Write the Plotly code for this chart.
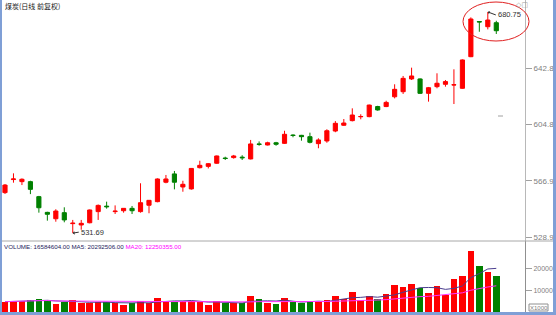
import plotly.graph_objects as go
import pandas as pd

# ---------------- data ----------------
idx = list(range(59))
opens = [559.0, 567.8, 566.4, 566.4, 556.3, 545.7, 541.4, 545.5, 538.1, 537.2,
         538.7, 546.2, 549.9, 546.2, 546.8, 548.4, 546.2, 550.5, 552.9, 566.0,
         571.6, 562.8, 561.5, 575.8, 576.7, 578.8, 582.3, 582.6, 582.9, 581.7,
         591.8, 591.1, 592.6, 592.2, 597.8, 597.6, 596.7, 592.0, 593.8, 600.5,
         604.4, 607.5, 610.1, 610.2, 617.0, 617.0, 623.6, 627.0, 635.6, 635.6,
         625.9, 630.4, 632.0, 631.5, 629.3, 650.6, 674.3, 670.8, 673.5]
highs = [564.8, 572.0, 568.6, 567.0, 556.8, 546.1, 547.8, 549.1, 540.6, 540.6,
         547.6, 551.0, 552.9, 550.4, 548.6, 550.0, 565.3, 554.0, 568.6, 570.9,
         573.6, 567.0, 575.6, 580.5, 578.9, 584.0, 583.2, 584.4, 584.2, 594.5,
         593.5, 593.3, 593.2, 600.7, 598.3, 597.9, 599.4, 595.6, 601.7, 607.2,
         608.6, 615.8, 611.8, 618.3, 617.5, 620.9, 632.0, 637.6, 643.2, 636.0,
         630.2, 639.4, 634.9, 642.1, 648.8, 677.1, 674.5, 680.75, 674.8]
lows = [558.1, 565.7, 564.1, 558.0, 545.5, 540.1, 539.4, 539.0, 531.69, 534.0,
        538.3, 540.6, 548.2, 544.6, 545.5, 544.6, 545.5, 545.1, 552.5, 565.3,
        561.2, 559.6, 561.0, 575.3, 575.3, 578.4, 581.0, 581.9, 581.0, 581.4,
        590.6, 590.8, 590.6, 591.8, 596.3, 594.0, 592.2, 588.9, 592.6, 599.7,
        604.0, 607.0, 608.4, 609.8, 614.2, 616.6, 622.5, 625.5, 634.9, 625.5,
        620.3, 629.3, 630.4, 618.7, 629.0, 650.3, 667.4, 669.0, 665.9]
closes = [564.1, 568.2, 568.0, 561.2, 548.8, 544.4, 546.6, 540.6, 538.4, 538.3,
          547.3, 550.4, 549.5, 546.5, 548.4, 546.8, 552.2, 553.8, 568.2, 568.2,
          566.0, 564.6, 575.3, 577.4, 578.5, 583.7, 582.0, 583.7, 582.5, 591.8,
          591.5, 592.6, 591.6, 598.3, 597.5, 596.7, 592.9, 594.5, 600.7, 605.7,
          605.9, 611.3, 610.3, 618.0, 614.7, 619.8, 628.6, 636.0, 637.6, 625.9,
          629.7, 632.7, 633.8, 631.7, 648.4, 676.0, 674.0, 675.3, 668.1]
volumes = [4800000, 5300000, 5000000, 5600000, 6000000, 5300000, 3900000, 4800000, 5600000, 4200000,
           4000000, 4500000, 4700000, 4300000, 3400000, 4200000, 5100000, 4200000, 6400000, 5300000,
           4800000, 5100000, 5100000, 4700000, 3300000, 5000000, 4200000, 4200000, 4200000, 7400000,
           6000000, 4200000, 3700000, 6400000, 4800000, 4000000, 5100000, 4800000, 5600000, 7400000,
           6000000, 9400000, 5600000, 7400000, 6000000, 8200000, 12600000, 11800000, 12900000, 11000000,
           8700000, 12100000, 7900000, 15200000, 16600000, 28200000, 21500000, 18500000, 16584604]
price_ticks = [528.9, 566.9, 604.8, 642.8]
vol_ticks = [10000, 20000]
title_text = "煤炭(日线 前复权)"
vol_title = "VOLUME: 16584604.00 MA5: 20292506.00 "
ma20_title = "MA20: 12250355.00"
low_label = "531.69"
high_label = "680.75"

RED = "#FF0000"
GREEN = "#008000"

vol_k = [v / 1000 for v in volumes]
s = pd.Series(vol_k)
ma5 = s.rolling(5, min_periods=1).mean().tolist()
ma20 = s.rolling(20, min_periods=1).mean().tolist()
vcolors = [RED if c >= o else GREEN for o, c in zip(opens, closes)]

W, H = 556, 315
def px(x):
    return x / W
def py(y):
    return 1 - y / H

fig = go.Figure()
fig.add_trace(go.Candlestick(
    x=idx, open=opens, high=highs, low=lows, close=closes,
    increasing=dict(line=dict(color=RED, width=1), fillcolor=RED),
    decreasing=dict(line=dict(color=GREEN, width=1), fillcolor=GREEN),
    whiskerwidth=0, xaxis="x", yaxis="y", showlegend=False, hoverinfo="skip"))
fig.add_trace(go.Bar(x=idx, y=vol_k, marker=dict(color=vcolors, line=dict(width=0)),
                     width=0.78, xaxis="x2", yaxis="y2", showlegend=False))
fig.add_trace(go.Scatter(x=idx, y=ma5, mode="lines", line=dict(color="#4a3d8f", width=1),
                         xaxis="x2", yaxis="y2", showlegend=False))
fig.add_trace(go.Scatter(x=idx, y=ma20, mode="lines", line=dict(color="#FF33FF", width=1),
                         xaxis="x2", yaxis="y2", showlegend=False))

xr = [-0.59, 61.39]
xdom = [0, 525 / W]
axis_font = dict(family="Liberation Sans, Arial", size=8, color="#808080")
fig.update_layout(
    width=W, height=H, margin=dict(l=0, r=0, t=0, b=0),
    paper_bgcolor="white", plot_bgcolor="white",
    bargap=0,
    xaxis=dict(domain=xdom, range=xr, visible=False, rangeslider=dict(visible=False), anchor="y"),
    xaxis2=dict(domain=xdom, range=xr, visible=False, anchor="y2"),
    yaxis=dict(domain=[py(241), 1], range=[526.4, 688.8], side="right", anchor="x",
               tickvals=price_ticks, ticktext=[f"{t:.1f}" for t in price_ticks],
               showgrid=False, zeroline=False, showline=True, linecolor="#b8b8b8", linewidth=1,
               ticks="outside", ticklen=6, tickcolor="#a0a0a0", tickfont=axis_font),
    yaxis2=dict(domain=[py(312), py(241)], range=[0, 33000], side="right", anchor="x2",
                tickvals=vol_ticks, ticktext=[str(t) for t in vol_ticks],
                showgrid=False, zeroline=False, showline=True, linecolor="#909090", linewidth=1,
                ticks="outside", ticklen=6, tickcolor="#a0a0a0",
                tickfont=dict(family="Liberation Sans, Arial", size=7, color="#808080")),
)

shapes = [
    dict(type="line", xref="paper", yref="paper", x0=0, x1=1, y0=py(241), y1=py(241),
         line=dict(color="#a8a8a8", width=1)),
    dict(type="circle", xref="paper", yref="paper", x0=px(463), x1=px(529), y0=py(41), y1=py(2),
         line=dict(color="#E02020", width=1)),
    dict(type="line", xref="paper", yref="paper", x0=px(498), x1=px(503), y0=py(116), y1=py(116),
         line=dict(color="#a0a0a0", width=1)),
    dict(type="rect", xref="paper", yref="paper", x0=0, x1=px(2), y0=0, y1=1,
         line=dict(width=0), fillcolor="#7f9fd6"),
    dict(type="rect", xref="paper", yref="paper", x0=px(553), x1=1, y0=0, y1=1,
         line=dict(width=0), fillcolor="#7f9fd6"),
    dict(type="rect", xref="paper", yref="paper", x0=0, x1=1, y0=0, y1=py(312),
         line=dict(width=0), fillcolor="#7f9fd6"),
    dict(type="rect", xref="paper", yref="paper", x0=px(529), x1=px(548), y0=py(311), y1=py(304),
         line=dict(color="#909090", width=1)),
]
fig.update_layout(shapes=shapes)

annotations = [
    dict(text=title_text, xref="paper", yref="paper", x=px(3), y=py(6), xanchor="left", yanchor="middle",
         showarrow=False, font=dict(family="Noto Sans CJK SC", size=7, color="#202020")),
    dict(text=vol_title + f"<span style='color:#FF00FF'>{ma20_title}</span>", xref="paper", yref="paper",
         x=px(2), y=py(246), xanchor="left", yanchor="middle", showarrow=False,
         font=dict(family="Liberation Sans, Arial", size=6.2, color="#1c1c5c")),
    dict(text=low_label, x=8, y=lows[8], xref="x", yref="y", xanchor="left", yanchor="middle",
         ax=6, ay=-1, showarrow=True, arrowhead=1, arrowsize=0.6, arrowwidth=1, arrowcolor="#303030",
         standoff=0, font=dict(family="Liberation Sans, Arial", size=7.5, color="#303030")),
    dict(text=high_label, x=57, y=highs[57], xref="x", yref="y", xanchor="left", yanchor="middle",
         ax=8, ay=3, showarrow=True, arrowhead=1, arrowsize=0.6, arrowwidth=1, arrowcolor="#303030",
         standoff=0, font=dict(family="Liberation Sans, Arial", size=7.5, color="#303030")),
    dict(text="X1000", xref="paper", yref="paper", x=px(538.5), y=py(307.5), xanchor="center", yanchor="middle",
         showarrow=False, font=dict(family="Liberation Sans, Arial", size=6, color="#808080")),
    dict(text="◇□", xref="paper", yref="paper", x=px(522), y=py(5), xanchor="center", yanchor="middle",
         showarrow=False, font=dict(family="DejaVu Sans", size=7, color="#a0a0a0")),
]
fig.update_layout(annotations=annotations)

fig.write_html("out.html")
